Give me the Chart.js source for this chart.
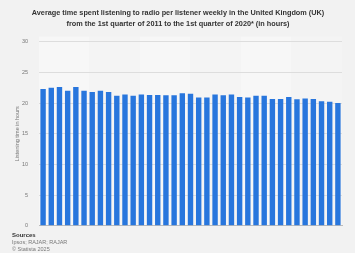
<!DOCTYPE html>
<html>
<head>
<meta charset="utf-8">
<script src="https://cdn.jsdelivr.net/npm/chart.js@4"></script>
<style>
  html, body { margin: 0; padding: 0; background: #f2f2f2; }
  #wrap { width: 355px; height: 253px; position: relative; }
</style>
</head>
<body>
<div id="wrap"><canvas id="myChart" width="355" height="253"></canvas></div>
<script>
// Quarters Q1 2011 .. Q1 2020
const years = [2011, 2012, 2013, 2014, 2015, 2016, 2017, 2018, 2019, 2020];
const quarters = [];
years.forEach(y => {
  ['Q1', 'Q2', 'Q3', 'Q4'].forEach(q => {
    if (y < 2020 || q === 'Q1') quarters.push(q + ' ' + y);
  });
});

// Hours per week
const hours = [
  22.3, 22.5, 22.6, 22.0, 22.6, 22.0, 21.8, 22.0, 21.8, 21.2,
  21.4, 21.2, 21.4, 21.3, 21.3, 21.25, 21.25, 21.6, 21.5, 20.9,
  20.9, 21.4, 21.25, 21.4, 21.0, 20.9, 21.2, 21.2, 20.65, 20.65,
  21.0, 20.6, 20.75, 20.65, 20.3, 20.2, 20.0
];

const yTicks = [0, 5, 10, 15, 20, 25, 30];

const titleLines = [
  'Average time spent listening to radio per listener weekly in the United Kingdom (UK)',
  'from the 1st quarter of 2011 to the 1st quarter of 2020* (in hours)'
];
const footLines = ['Ipsos; RAJAR; RAJAR', '\u00a9 Statista 2025'];

// fondo, bandas y textos
const decor = {
  id: 'decor',
  beforeDraw(chart) {
    const c = chart.ctx, a = chart.chartArea;
    c.save();
    c.fillStyle = '#f2f2f2';
    c.fillRect(0, 0, chart.width, chart.height);
    const band = (a.right - a.left) / 6;
    for (let i = 0; i < 6; i++) {
      c.fillStyle = i % 2 ? '#f4f4f4' : '#f7f7f7';
      c.fillRect(a.left + i * band, a.top - 5, band, a.bottom - a.top + 5);
    }
    c.restore();
  },
  afterDraw(chart) {
    const c = chart.ctx;
    c.save();
    c.fillStyle = '#333';
    c.textAlign = 'center';
    c.textBaseline = 'middle';
    c.font = 'bold 7.3px "Liberation Sans", Arial, sans-serif';
    c.fillText(titleLines[0], 178, 13);
    c.fillText(titleLines[1], 178, 24);
    c.textAlign = 'left';
    c.font = 'bold 6px "Liberation Sans", Arial, sans-serif';
    c.fillText('Sources', 12, 235);
    c.font = '5.5px "Liberation Sans", Arial, sans-serif';
    c.fillStyle = '#777';
    c.fillText(footLines[0], 12, 242.5);
    c.fillText(footLines[1], 12, 249);
    c.restore();
  }
};

const ctx = document.getElementById('myChart').getContext('2d');
new Chart(ctx, {
  type: 'bar',
  data: {
    labels: quarters,
    datasets: [{
      label: 'Listening time in hours',
      data: hours,
      backgroundColor: '#2876dd',
      borderWidth: 0,
      categoryPercentage: 1,
      barPercentage: 0.66
    }]
  },
  options: {
    responsive: false,
    animation: false,
    devicePixelRatio: 1,
    layout: { padding: { top: 41.7, right: 13, left: 0, bottom: 0 } },
    plugins: { legend: { display: false }, tooltip: { enabled: false } },
    scales: {
      x: {
        grid: { display: false },
        border: { display: true, color: '#bbb', width: 1 },
        ticks: { display: false },
        afterFit(scale) { scale.height = 27.3; }
      },
      y: {
        min: 0,
        max: 30,
        afterBuildTicks(scale) { scale.ticks = yTicks.map(v => ({ value: v })); },
        grid: { color: '#dddddd', lineWidth: 1, drawTicks: false },
        border: { display: false },
        ticks: {
          padding: 11,
          color: '#777',
          font: { size: 5.5, family: '"Liberation Sans", Arial, sans-serif' }
        },
        title: {
          display: true,
          text: 'Listening time in hours',
          color: '#777',
          font: { size: 5.5, family: '"Liberation Sans", Arial, sans-serif' },
          padding: { top: 14, bottom: 0 }
        },
        afterFit(scale) { scale.width = 39; }
      }
    }
  },
  plugins: [decor]
});
</script>
</body>
</html>
